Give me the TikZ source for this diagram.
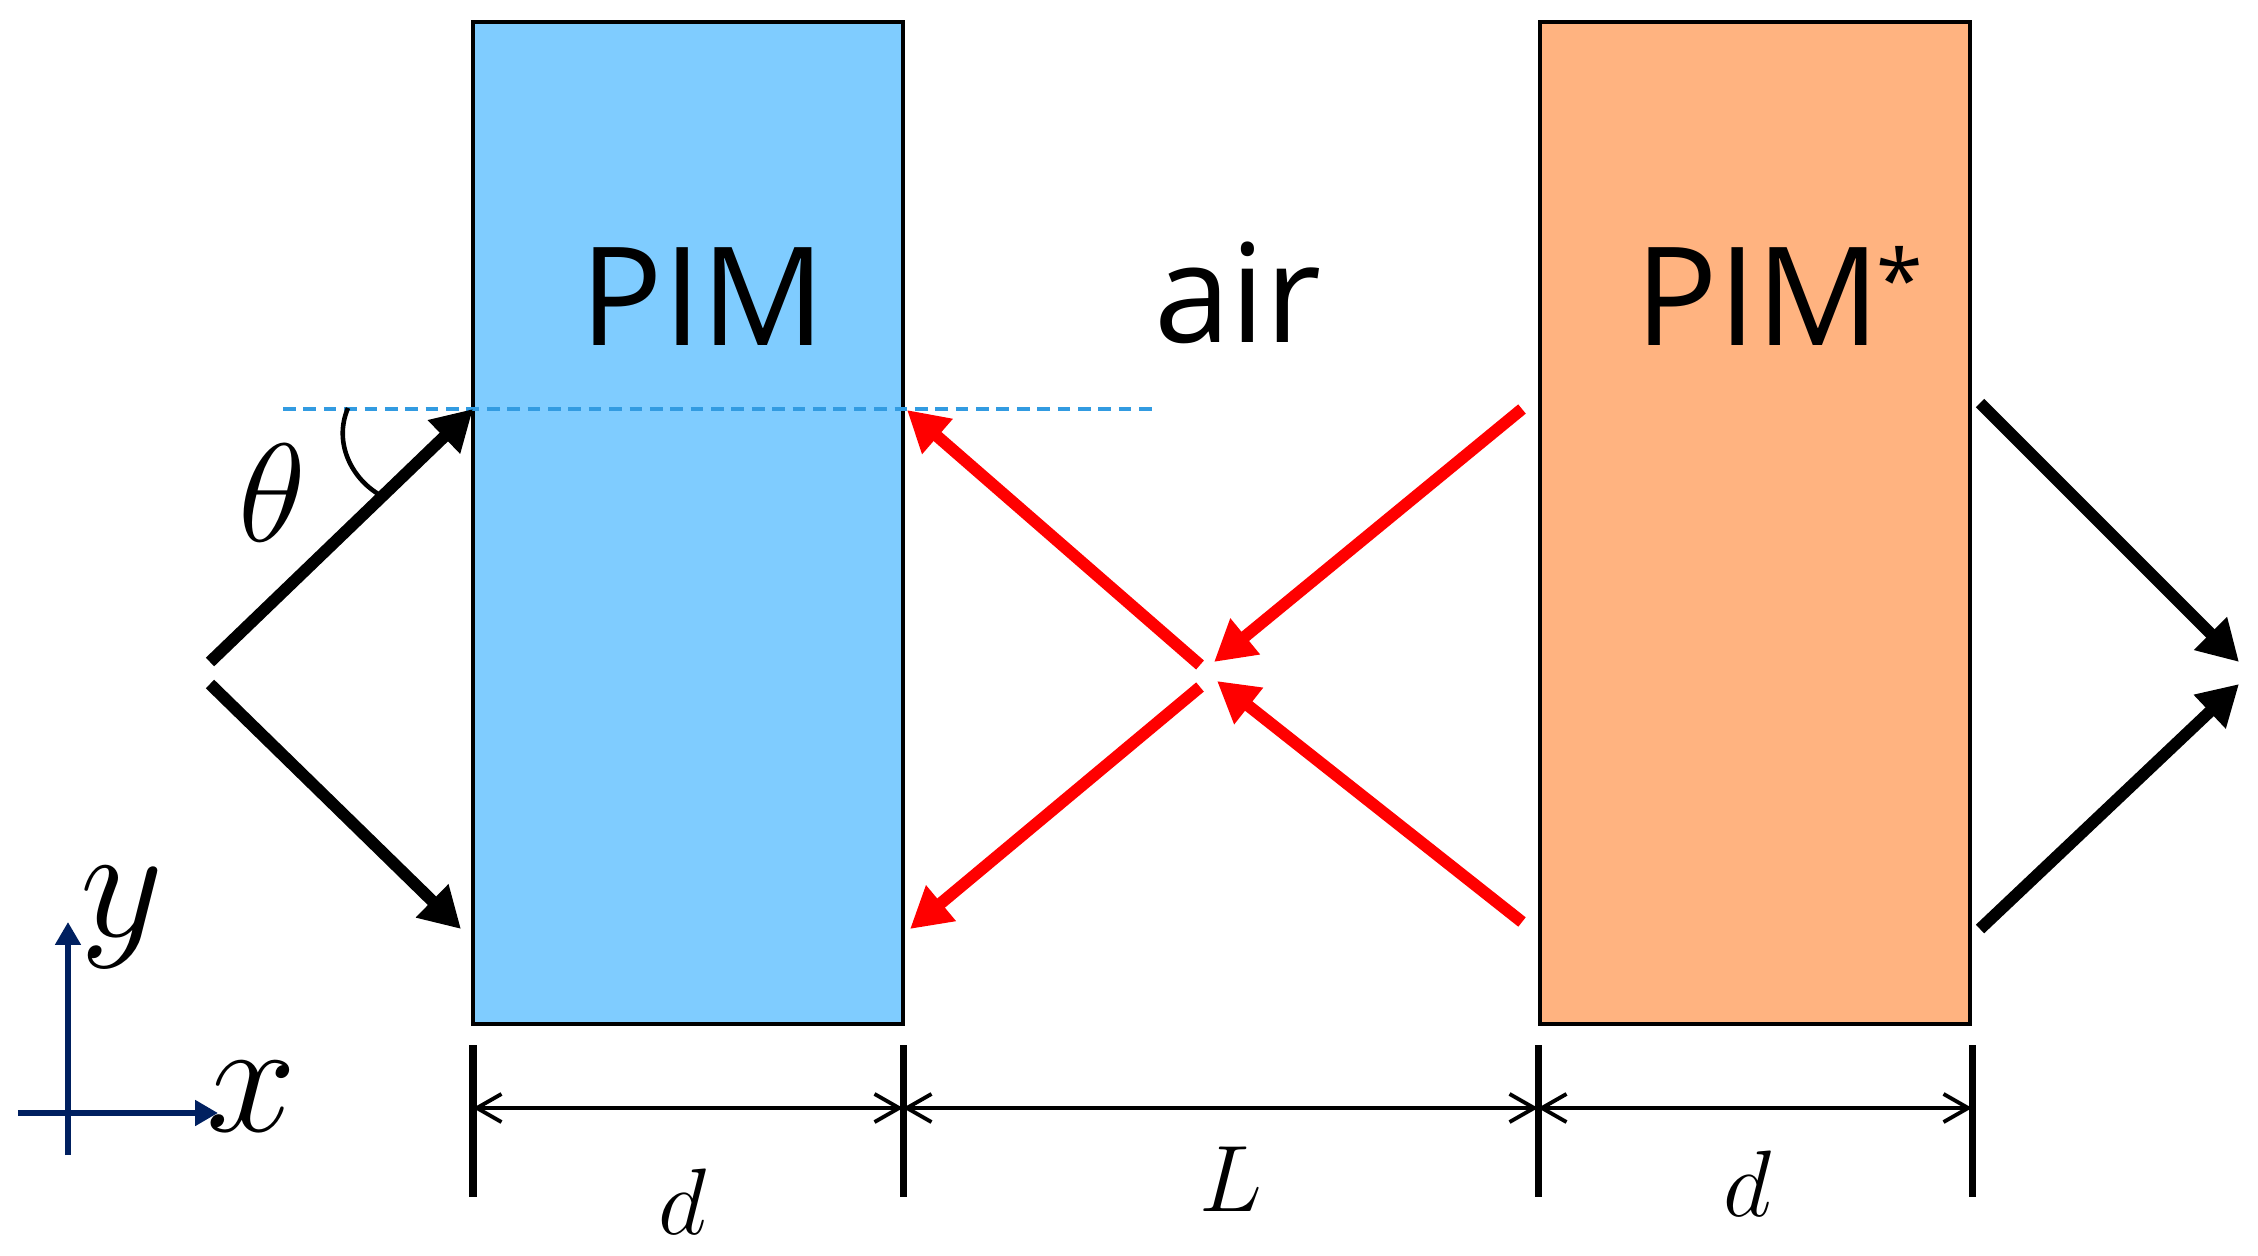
\documentclass[tikz,border=0pt]{standalone}
\usepackage{fontspec}
\setmainfont{Open Sans}
\usepackage{amsmath}
\usetikzlibrary{arrows.meta}
\usetikzlibrary{positioning}
\usetikzlibrary{calc}
\definecolor{pimblue}{RGB}{127,204,255}
\definecolor{pimorange}{RGB}{255,179,128}
\definecolor{axisnavy}{RGB}{0,32,96}
\definecolor{dashblue}{RGB}{50,155,225}
\newcommand{\mathsym}[2]{\scalebox{#1}{$#2$}}

\begin{document}
\begin{tikzpicture}[slab/.style={draw=black,line width=0.9pt,minimum width=4.3cm,
        minimum height=10.02cm,inner sep=0pt},
    ray/.style={line width=3.4pt,-{Triangle[length=11.5pt,width=12.5pt]}},
    back/.style={ray,red},
    dimline/.style={line width=1.1pt,{Straight Barb[length=7pt,width=8pt]}-{Straight Barb[length=7pt,width=8pt]}},
    tick/.style={line width=2pt},
    axis/.style={axisnavy,line width=1.7pt,-{Triangle[length=6.5pt,width=7pt]}},
    word/.style={font=\fontsize{39}{44}\selectfont,anchor=base,inner sep=0pt},
    sym/.style={font=\fontsize{24.88}{30}\selectfont,inner sep=0pt}]
 \useasboundingbox (0,0) rectangle (22.58,12.55);
 % the two slabs
 \node[slab,fill=pimblue] (pim) at (6.88,7.32) {};
 \node[slab,fill=pimorange] (pimc) at (17.55,7.32) {};
 \node[word] (pimtxt) at (7.03,9.09) {PIM};
 \node[word] (airtxt) at (12.38,9.12) {air};
 \node[word,anchor=base west] (pimctxt) at (16.35,9.09) {PIM\kern-1pt\raisebox{10pt}{\fontsize{24}{24}\selectfont *}};
 % end points of the rays
 \coordinate (a1) at (2.10,5.93); \coordinate (a2) at (4.73,8.46);
 \coordinate (a3) at (2.10,5.71); \coordinate (a4) at (4.61,3.26);
 \coordinate (r1) at (12.00,5.90); \coordinate (r2) at (9.07,8.45);
 \coordinate (r3) at (12.00,5.68); \coordinate (r4) at (9.10,3.26);
 \coordinate (r5) at (15.22,8.46); \coordinate (r6) at (12.14,5.93);
 \coordinate (r7) at (15.22,3.33); \coordinate (r8) at (12.17,5.74);
 \coordinate (b1) at (19.80,8.52); \coordinate (b2) at (22.39,5.93);
 \coordinate (b3) at (19.80,3.26); \coordinate (b4) at (22.39,5.71);
 \draw[dashblue,line width=1pt,dash pattern=on 3.6pt off 2.2pt] (2.83,8.46) coordinate (n1) -- (11.56,8.46) coordinate (n2);
 \draw[ray] (a1) -- (a2);
 \draw[ray] (a3) -- (a4);
 \draw[back] (r1) -- (r2);
 \draw[back] (r3) -- (r4);
 \draw[back] (r5) -- (r6);
 \draw[back] (r7) -- (r8);
 \draw[ray] (b1) -- (b2);
 \draw[ray] (b3) -- (b4);
 % angle
 \coordinate (c1) at (3.48,8.47); \coordinate (c2) at (3.80,7.60);
 \draw[line width=1.3pt] (c1) .. controls (3.33,8.12) and (3.52,7.76) .. (c2);
 \node[sym] (theta) at (2.72,7.62) {\mathsym{1.6}{\theta}};
 % thickness and gap
 \foreach \x [count=\i] in {4.73,9.03,15.38,19.72}
   \draw[tick] (\x,2.10) coordinate (t\i) -- (\x,0.58);
 \coordinate (m1) at (4.73,1.47); \coordinate (m2) at (9.03,1.47);
 \coordinate (m3) at (15.38,1.47); \coordinate (m4) at (19.72,1.47);
 \draw[dimline] (m1) -- (m2);
 \draw[dimline] (m2) -- (m3);
 \draw[dimline] (m3) -- (m4);
 \node[sym] (dl) at (6.83,0.53) {\mathsym{1.08}{d}};
 \node[sym] (gl) at (12.31,0.76) {\mathsym{1.08}{L}};
 \node[sym] (dr) at (17.47,0.71) {\mathsym{1.08}{d}};
 % axes
 \coordinate (o) at (0.68,1.42);
 \coordinate (ox) at (2.18,1.42); \coordinate (oy) at (0.68,3.33);
 \draw[axis] (0.18,1.42) -- (ox);
 \draw[axis] (0.68,1.00) -- (oy);
 \node[sym] (xl) at (2.52,1.58) {\mathsym{1.85}{x}};
 \node[sym] (yl) at (1.22,3.38) {\mathsym{1.85}{y}};
\end{tikzpicture}
\end{document}
